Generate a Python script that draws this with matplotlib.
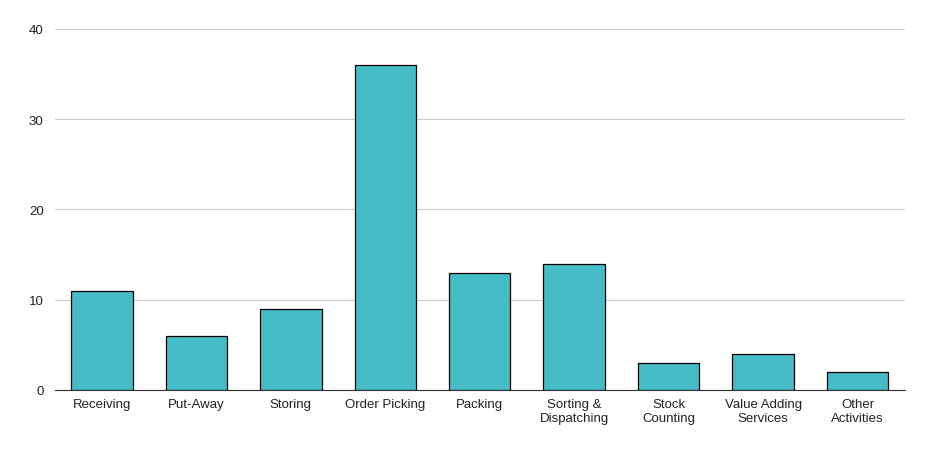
import matplotlib

matplotlib.use("Agg")
import matplotlib.pyplot as plt  # noqa: E402
import numpy as np  # noqa: E402

categories = [
    "Receiving", "Put-Away", "Storing", "Order Picking", "Packing",
    "Sorting &\nDispatching", "Stock\nCounting", "Value Adding\nServices", "Other\nActivities",
]
values = [11, 6, 9, 36, 13, 14, 3, 4, 2]
y_ticks = [0, 10, 20, 30, 40]

BAR = "#46BDC6"

plt.rcParams["font.family"] = ["Liberation Sans", "DejaVu Sans"]

fig = plt.figure(figsize=(9.27, 4.52), dpi=100)
ax = fig.add_axes([0.059, 0.135, 0.917, 0.799])
x = np.arange(len(categories))
ax.bar(x, values, width=0.65, color=BAR, edgecolor="black", linewidth=0.9, zorder=3)
ax.set_xlim(-0.5, len(categories) - 0.5)
ax.set_ylim(0, 40)
ax.set_yticks(y_ticks)
ax.set_xticks(x)
ax.set_xticklabels(categories, fontsize=9.5, color="#222222", linespacing=1.2)
ax.tick_params(axis="y", labelsize=9.5, colors="#222222", length=0, pad=8)
ax.tick_params(axis="x", length=0, pad=6)
ax.grid(axis="y", color="#d0d0d0", linewidth=0.8, zorder=0)
for side in ("top", "right", "left"):
    ax.spines[side].set_visible(False)
ax.spines["bottom"].set_color("#333333")
ax.spines["bottom"].set_zorder(4)
fig.savefig("out.png", dpi=100)
